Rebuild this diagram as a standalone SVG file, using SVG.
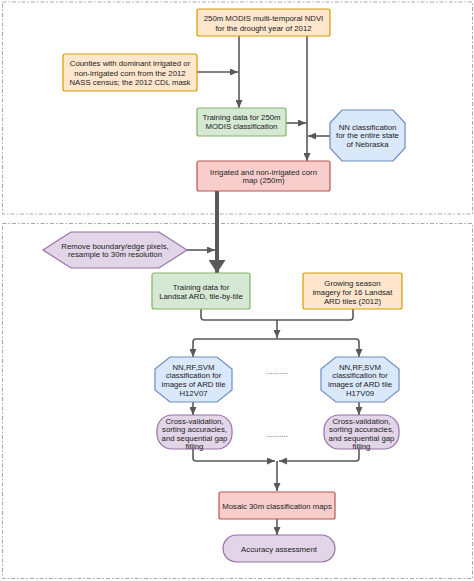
<svg xmlns="http://www.w3.org/2000/svg" width="474" height="581" viewBox="0 0 474 581">
<style>
text{font-family:"Liberation Sans",Arial,sans-serif;font-size:7.8px;fill:#222;text-anchor:middle}
.frame{fill:none;stroke:#a8a8a8;stroke-width:1;stroke-dasharray:4 2 1.5 2}
.or{fill:#ffe6cc;stroke:#d79b00;stroke-width:1.2}
.gr{fill:#d5e8d4;stroke:#82b366;stroke-width:1.2}
.bl{fill:#dae8fc;stroke:#6c8ebf;stroke-width:1.2}
.rd{fill:#f8cecc;stroke:#b85450;stroke-width:1.2}
.pu{fill:#e1d5e7;stroke:#9673a6;stroke-width:1.2}
.c{fill:none;stroke:#595959;stroke-width:1.6}
.ca{fill:none;stroke:#595959;stroke-width:1.6;marker-end:url(#ah)}
.ct{fill:none;stroke:#595959;stroke-width:4;marker-end:url(#aht)}
.dots{font-size:8px;fill:#444}
</style>
<defs>
<marker id="ah" markerUnits="userSpaceOnUse" markerWidth="8" markerHeight="7" refX="8" refY="3.5" orient="auto">
<path d="M0,0 L8,3.5 L0,7 z" fill="#595959"/>
</marker>
<marker id="aht" markerUnits="userSpaceOnUse" markerWidth="14" markerHeight="17" refX="13" refY="8.5" orient="auto">
<path d="M0,0 L13,8.5 L0,17 z" fill="#595959"/>
</marker>
</defs>
<rect width="474" height="581" fill="#ffffff"/>
<g id="frames">
<rect class="frame" x="2.5" y="2" width="470" height="212"/>
<rect class="frame" x="2.5" y="223.5" width="470" height="355"/>
</g>
<g id="connectors">
<path class="ca" d="M239,36 V108"/>
<path class="ca" d="M197,72 H238"/>
<path class="ca" d="M307,36 V161"/>
<path class="ca" d="M286,123 H306"/>
<path class="ca" d="M330,136 H308"/>
<path class="ct" d="M217,191 V273"/>
<path class="ca" d="M187,250 H215"/>
<path class="c" d="M201,309 V317 Q201,320 204,320 H350 Q353,320 353,317 V309"/>
<path class="ca" d="M277,320 V338"/>
<path class="ca" d="M277,339 H196 Q193,339 193,342 V357"/>
<path class="ca" d="M277,339 H356 Q359,339 359,342 V357"/>
<path class="ca" d="M193,401 V415"/>
<path class="ca" d="M359,401 V415"/>
<path class="ca" d="M193,449 V458 Q193,461 196,461 H275"/>
<path class="ca" d="M359,449 V458 Q359,461 356,461 H279"/>
<path class="ca" d="M277,461 V491"/>
<path class="ca" d="M277,519 V535"/>
</g>
<g id="n1">
<rect class="or" x="197" y="9" width="133" height="27" rx="2"/>
<text x="263.5" y="21.3">250m MODIS multi-temporal NDVI</text>
<text x="263.5" y="31.3">for the drought year of 2012</text>
</g>
<g id="n2">
<rect class="or" x="63" y="54" width="134" height="37" rx="2"/>
<text x="130" y="66.1">Counties with dominant irrigated or</text>
<text x="130" y="75.5">non-irrigated corn from the 2012</text>
<text x="130" y="84.8">NASS census; the 2012 CDL mask</text>
</g>
<g id="n3">
<rect class="gr" x="197" y="108" width="89" height="28" rx="2"/>
<text x="241.5" y="120.3">Training data for 250m</text>
<text x="241.5" y="129.3">MODIS classification</text>
</g>
<g id="n4">
<polygon class="bl" points="342,110 393,110 405,123 405,148 393,161 342,161 330,148 330,123"/>
<text x="367.5" y="129.8">NN classification</text>
<text x="367.5" y="138.3">for the entire state</text>
<text x="367.5" y="146.8">of Nebraska</text>
</g>
<g id="n5">
<rect class="rd" x="197" y="161" width="133" height="30" rx="2"/>
<text x="263.5" y="174.8">Irrigated and non-irrigated corn</text>
<text x="263.5" y="183.3">map (250m)</text>
</g>
<g id="n6">
<polygon class="pu" points="71,232 159,232 187,250 159,268 71,268 43,250"/>
<text x="115" y="248.8">Remove boundary/edge pixels,</text>
<text x="115" y="257.3">resample to 30m resolution</text>
</g>
<g id="n7">
<rect class="gr" x="152" y="273" width="98" height="36" rx="2"/>
<text x="201" y="289.5">Training data for</text>
<text x="201" y="298.8">Landsat ARD, tile-by-tile</text>
</g>
<g id="n8">
<rect class="or" x="303" y="273" width="99" height="36" rx="2"/>
<text x="352.5" y="286.1">Growing season</text>
<text x="352.5" y="295.1">imagery for 16 Landsat</text>
<text x="352.5" y="303.8">ARD tiles (2012)</text>
</g>
<g id="n9">
<polygon class="bl" points="170,357 217,357 232,369 232,390 217,402 170,402 155,390 155,369"/>
<text x="193.5" y="369.5">NN,RF,SVM</text>
<text x="193.5" y="378.1">classification for</text>
<text x="193.5" y="386.8">images of ARD tile</text>
<text x="193.5" y="395.5">H12V07</text>
</g>
<g id="n10">
<polygon class="bl" points="336,357 384,357 399,369 399,390 384,402 336,402 321,390 321,369"/>
<text x="360" y="369.5">NN,RF,SVM</text>
<text x="360" y="378.1">classification for</text>
<text x="360" y="386.8">images of ARD tile</text>
<text x="360" y="395.5">H17V09</text>
</g>
<text class="dots" x="277" y="374">..........</text>
<g id="n11">
<rect class="pu" x="157" y="415" width="75" height="34" rx="15"/>
<text x="194.5" y="423.5">Cross-validation,</text>
<text x="194.5" y="432.1">sorting accuracies,</text>
<text x="194.5" y="440.8">and sequential gap</text>
<text x="194.5" y="448.6">filling</text>
</g>
<g id="n12">
<rect class="pu" x="324" y="415" width="75" height="34" rx="15"/>
<text x="361.5" y="423.5">Cross-validation,</text>
<text x="361.5" y="432.1">sorting accuracies,</text>
<text x="361.5" y="440.8">and sequential gap</text>
<text x="361.5" y="448.6">filling</text>
</g>
<text class="dots" x="277" y="437">..........</text>
<g id="n13">
<rect class="rd" x="219" y="492" width="116" height="27" rx="2"/>
<text x="277" y="508.5">Mosaic 30m classification maps</text>
</g>
<g id="n14">
<rect class="pu" x="223" y="535" width="112" height="27" rx="13.5"/>
<text x="279" y="551.8">Accuracy assessment</text>
</g>
</svg>
